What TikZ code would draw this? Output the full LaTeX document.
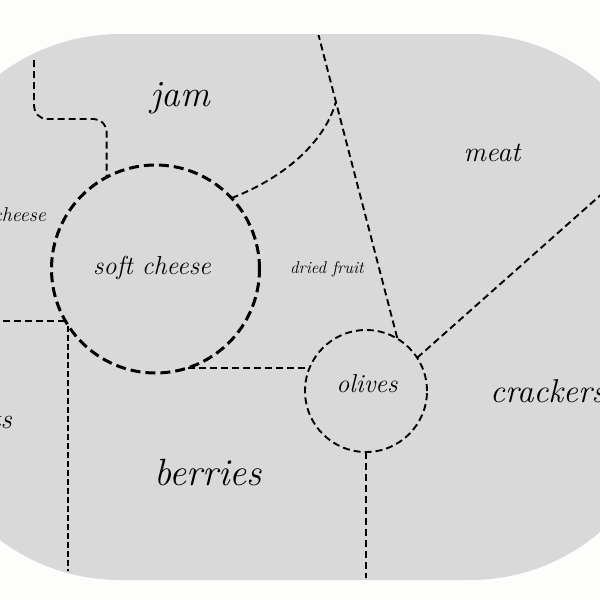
\documentclass[tikz,border=0pt]{standalone}
\usetikzlibrary{calc}
\definecolor{plate}{HTML}{D9D9D9}
\definecolor{paper}{HTML}{FDFDFC}
\tikzset{
  thinbound/.style={draw=black, line width=1.9pt, dash pattern=on 7pt off 4pt},
  thickbound/.style={draw=black, line width=3pt, dash pattern=on 10pt off 5pt},
  lbl/.style={font=\itshape, text=black, inner sep=0pt},
}
\begin{document}
\begin{tikzpicture}[x=1pt,y=-1pt]
\useasboundingbox (0,0) rectangle (600,600);
\fill[paper] (0,0) rectangle (600,600);
\clip (0,0) rectangle (600,600);
\fill[plate, rounded corners=200pt] (-80,34) rectangle (670,580);
% nodes
\node[circle, thickbound, minimum size=208pt, inner sep=0pt, outer sep=0pt] (sc) at (155.5,269) {};
\node[circle, thinbound, minimum size=122pt, inner sep=0pt, outer sep=0pt] (ol) at (366,391) {};
\coordinate (top) at (318,33);
\coordinate (lp) at (34,60);
\coordinate (rt) at (604,192);
\coordinate (bt) at (0,580);
\coordinate (lf) at (0,0);
\coordinate (fork) at ($(top)!0.225!(ol.59.3)$);
\coordinate (bend) at (0,119);
% connectors
\begin{scope}
\clip[rounded corners=200pt] (-80,35) rectangle (670,578);
\draw[thinbound, rounded corners=13pt] (lp) -- (lp |- bend) -- (sc.118.5 |- bend) -- (sc.118.5);
\draw[thinbound] (sc.43.5) .. controls ($(sc.43.5)+(57,-22)$) and ($(fork)+(-10,37)$) .. (fork);
\draw[thinbound] (top) -- (ol.59.3);
\draw[thinbound] (ol.33) -- (rt);
\draw[thinbound] (sc.-72) -- (sc.-72 -| ol.157.8);
\draw[thinbound] (sc.210) -- (sc.210 -| lf);
\draw[thinbound, dash pattern=on 6pt off 3pt] (sc.213.7) -- (sc.213.7 |- bt);
\draw[thinbound] (ol.south) -- (ol.south |- bt);
\end{scope}
% labels
\node[lbl, font=\itshape\fontsize{37}{37}\selectfont] (jam) at (180,98) {jam};
\node[lbl, font=\itshape\fontsize{28}{28}\selectfont] (meat) at (492,153) {meat};
\node[lbl, font=\itshape\fontsize{20}{20}\selectfont, anchor=base east] (hc) at (46,221) {cheese};
\node[lbl, font=\itshape\fontsize{26}{26}\selectfont] (sct) at (152,268) {soft cheese};
\node[lbl, font=\itshape\fontsize{17}{17}\selectfont] (df) at (327,269) {dried fruit};
\node[lbl, font=\itshape\fontsize{26}{26}\selectfont] (olt) at (367,384) {olives};
\node[lbl, font=\itshape\fontsize{33}{33}\selectfont, anchor=base west] (cr) at (490,402) {crackers};
\node[lbl, font=\itshape\fontsize{38}{38}\selectfont] (be) at (208,472) {berries};
\node[lbl, font=\itshape\fontsize{28}{28}\selectfont, anchor=base east] (nu) at (12,428) {nuts};
\end{tikzpicture}
\end{document}
